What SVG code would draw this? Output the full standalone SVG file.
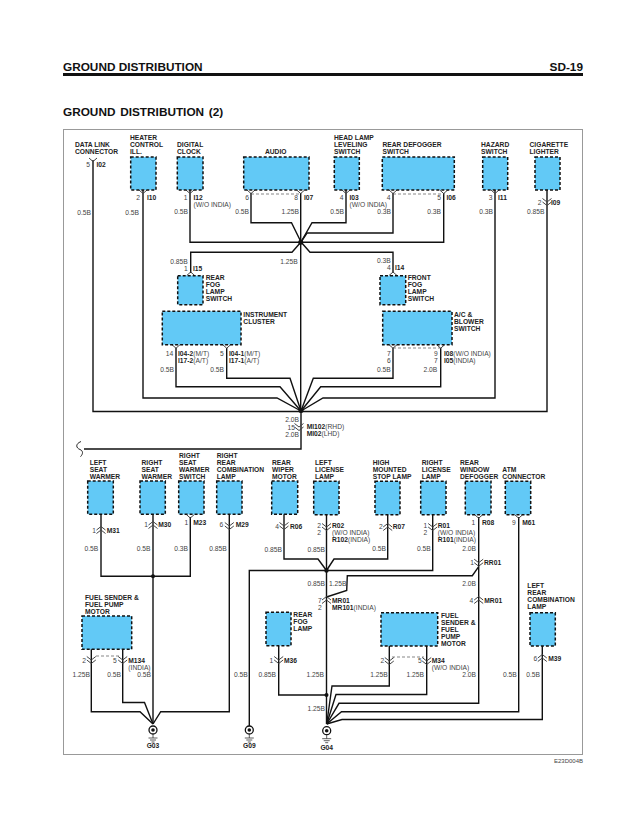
<svg xmlns="http://www.w3.org/2000/svg" width="638" height="826" viewBox="0 0 638 826">
<style>
text{font-family:"Liberation Sans",Arial,sans-serif;font-size:6.7px;fill:#444}
.t{font-weight:bold;font-size:6.7px;fill:#222}
.b{font-weight:bold;fill:#222}
.e{text-anchor:end}
.h{font-weight:bold;font-size:11.8px;fill:#111}
.box{fill:#62c9f6;stroke:#111;stroke-width:1.5;stroke-dasharray:3 2}
.w{fill:none;stroke:#111;stroke-width:1.4;stroke-linejoin:miter}
.d{fill:none;stroke:#555;stroke-width:.7;stroke-dasharray:3 2}
.c{fill:none;stroke:#444;stroke-width:1}
.dot{fill:#111}
</style>
<defs>
<path id="fork" class="c" d="M-4 0L0 3.5L4 0"/>
<path id="forkup" class="c" d="M-4 0L0 -3.5L4 0"/>
<path id="dn" class="c" d="M-4.500 -3.500L0 0L4.500 -3.500M-4.500 0L0 3.500L4.500 0"/>
<path id="up" class="c" d="M-4.500 3.500L0 0L4.500 3.500M-4.500 0L0 -3.500L4.500 0"/>
<g id="gnd">
<circle r="4" fill="#fff" stroke="#111" stroke-width="1.300"/>
<circle r="1.800" fill="#111"/>
<path d="M0 4V8M-4.500 8H4.500M-3 10H3M-1.500 12H1.500" fill="none" stroke="#333" stroke-width=".8"/>
</g>
</defs>
<rect width="638" height="826" fill="#fff"/>
<g id="header">
<text class="h" x="63" y="71">GROUND DISTRIBUTION</text>
<text class="h" x="583" y="71" text-anchor="end">SD-19</text>
<rect x="63" y="73" width="520" height="3" fill="#111"/>
<text class="h" x="63" y="116" style="word-spacing:1.500px">GROUND DISTRIBUTION (2)</text>
<rect x="63.500" y="129.500" width="519" height="625" fill="none" stroke="#999" stroke-width="1"/>
<text x="583" y="763" class="e" style="font-size:6px">E23D004B</text>
</g>
<g id="connectors">
<path class="w" d="M93 160V411.500H301"/>
<path class="w" d="M143 190V398H277L301 411"/>
<path class="w" d="M190 190V242.300H301"/>
<path class="w" d="M251 193V222.700H291.500L301 242"/>
<path class="w" d="M300.700 193V411"/>
<path class="w" d="M346 190V222.700H312L301 242"/>
<path class="w" d="M393 193V233H307L301 242"/>
<path class="w" d="M443.700 193V242.300H301"/>
<path class="w" d="M495 190V398H323L301 411"/>
<path class="w" d="M547 190V411.500H301"/>
<path class="w" d="M190.700 273V252.300H292L301 242"/>
<path class="w" d="M393 273V252.300H310L301 242"/>
<path class="w" d="M176 348V386.700H280L301 411"/>
<path class="w" d="M226.700 348V378.300H290L301 411"/>
<path class="w" d="M393 348V378.300H313.300L301 411"/>
<path class="w" d="M440.700 348V386.700H320.700L301 411"/>
<path class="w" d="M301 411V449H84"/>
<path fill="none" stroke="#111" stroke-width=".9" d="M81 441.500C75 444 76 448 80 449.500C83.500 451 83 454 80.500 456.700"/>
<path class="w" d="M101 514V576.300H190.300V517"/>
<path class="w" d="M153 514V724"/>
<path class="w" d="M229.300 514V711.700H160.700L153 724"/>
<path class="w" d="M91.300 649V711.700H140L153 724"/>
<path class="w" d="M122.700 649V702.500H144.500L153 724"/>
<path class="w" d="M284 514V559H318L326.500 570.500"/>
<path class="w" d="M326.500 514V724"/>
<path class="w" d="M387.700 514V559H334L326.500 570.500"/>
<path class="w" d="M249.300 726V570.500H432.700V514"/>
<path class="w" d="M478.700 517V703.300H339L326.700 724"/>
<path class="w" d="M478.700 566.700L472.300 575.700H347.300L346.700 590.500L326.500 597"/>
<path class="w" d="M518.700 517V711.700H341.500L326.700 724"/>
<path class="w" d="M542.300 646V719.500H342L326.700 724"/>
<path class="w" d="M389.300 646V686H332L326.700 724"/>
<path class="w" d="M426.700 646V694.500H336L326.700 724"/>
<path class="w" d="M278.700 646V695H326.500"/>
<path class="d" d="M251 194H300.700M393 194H443.700M393 348H440.700M96 656H120M392 657H424"/>
<circle class="dot" cx="300.700" cy="242.300" r="2.500"/>
<circle class="dot" cx="301" cy="410.500" r="2.500"/>
<circle class="dot" cx="153" cy="576.300" r="2"/>
<circle class="dot" cx="326.500" cy="570.500" r="2.200"/>
<circle class="dot" cx="326.500" cy="695" r="2"/>
<use href="#fork" x="93" y="158"/><use href="#fork" x="143" y="190"/><use href="#fork" x="190" y="190"/>
<use href="#fork" x="251" y="190"/><use href="#fork" x="300.700" y="190"/><use href="#fork" x="346" y="190"/>
<use href="#fork" x="393" y="190"/><use href="#fork" x="443.700" y="190"/><use href="#fork" x="495" y="190"/>
<use href="#dn" x="547" y="202"/>
<use href="#forkup" x="190.700" y="275.500"/><use href="#forkup" x="393" y="275.500"/>
<use href="#fork" x="176" y="344.700"/><use href="#fork" x="226.700" y="344.700"/><use href="#fork" x="393" y="344.700"/><use href="#fork" x="440.700" y="344.700"/>
<use href="#dn" x="299" y="427"/>
<use href="#up" x="101" y="530"/><use href="#up" x="153" y="525"/><use href="#fork" x="190.300" y="514.500"/>
<use href="#dn" x="229.300" y="526"/><use href="#dn" x="284" y="526"/><use href="#dn" x="326.500" y="527"/><use href="#up" x="387.700" y="527"/><use href="#dn" x="432.700" y="527"/>
<use href="#fork" x="478.700" y="514.700"/><use href="#fork" x="518.700" y="514.700"/>
<use href="#dn" x="478.700" y="562.700"/><use href="#up" x="478.700" y="600"/><use href="#up" x="326.500" y="600"/>
<use href="#dn" x="91.300" y="660"/><use href="#dn" x="122.700" y="660"/><use href="#dn" x="278.700" y="660"/>
<use href="#dn" x="389.300" y="661"/><use href="#dn" x="426.700" y="661"/><use href="#up" x="542.300" y="658"/>
<g id="gauges">
<text class="e" x="91" y="215">0.5B</text><text class="e" x="139" y="215">0.5B</text><text class="e" x="188" y="214">0.5B</text><text class="e" x="249" y="214">0.5B</text><text class="e" x="299" y="214">1.25B</text><text class="e" x="344" y="214">0.5B</text><text class="e" x="391" y="214">0.3B</text><text class="e" x="441" y="214">0.3B</text><text class="e" x="493" y="214">0.3B</text><text class="e" x="544.500" y="214">0.85B</text>
<text class="e" x="187.700" y="264">0.85B</text><text class="e" x="297.700" y="264">1.25B</text><text class="e" x="390.700" y="263">0.3B</text>
<text class="e" x="174" y="372">0.5B</text><text class="e" x="224" y="372">0.5B</text><text class="e" x="390.700" y="372">0.5B</text><text class="e" x="437.300" y="372">2.0B</text>
<text class="e" x="299" y="421.500">2.0B</text><text class="e" x="299" y="437">2.0B</text>
<text class="e" x="98.300" y="550.500">0.5B</text><text class="e" x="150.500" y="550.500">0.5B</text><text class="e" x="188" y="550.500">0.3B</text><text class="e" x="226.700" y="550.500">0.85B</text><text class="e" x="282" y="551.500">0.85B</text><text class="e" x="325" y="551.500">0.85B</text><text class="e" x="386" y="551">0.5B</text><text class="e" x="430.700" y="551">0.5B</text><text class="e" x="476" y="551">2.0B</text>
<text class="e" x="325" y="586.300">0.85B</text><text x="329" y="586.300">1.25B</text><text class="e" x="476" y="586.300">2.0B</text>
<text class="e" x="90" y="676.500">1.25B</text><text class="e" x="121" y="676.500">0.5B</text><text class="e" x="151" y="676.500">0.5B</text><text class="e" x="247.700" y="676.500">0.5B</text><text class="e" x="276" y="676.500">0.85B</text><text class="e" x="324" y="676.500">1.25B</text><text class="e" x="387.700" y="676.500">1.25B</text><text class="e" x="424" y="676.500">1.25B</text><text class="e" x="476" y="676.500">2.0B</text><text class="e" x="516.700" y="676.500">0.5B</text><text class="e" x="540" y="676.500">0.5B</text>
<text class="e" x="325" y="710.500">1.25B</text>
</g>
</g>
<g id="data-link-connector"><text class="t" x="75" y="147">DATA LINK</text><text class="t" x="75" y="154">CONNECTOR</text><text class="e" x="90" y="167">5</text><text class="b" x="96.500" y="167">I02</text></g>
<g id="heater-control"><rect class="box" x="130.700" y="157" width="25.300" height="33"/><text class="t" x="130" y="140">HEATER</text><text class="t" x="130" y="147">CONTROL</text><text class="t" x="130" y="154">ILL.</text><text class="e" x="140" y="200">2</text><text class="b" x="147" y="200">I10</text></g>
<g id="digital-clock"><rect class="box" x="177.300" y="157" width="25.700" height="33"/><text class="t" x="177" y="147">DIGITAL</text><text class="t" x="177" y="154">CLOCK</text><text class="e" x="187.500" y="200">1</text><text class="b" x="193.500" y="200">I12</text><text x="193.500" y="207">(W/O INDIA)</text></g>
<g id="audio"><rect class="box" x="243.700" y="157" width="65.300" height="33"/><text class="t" x="275.700" y="154" text-anchor="middle">AUDIO</text><text class="e" x="249" y="200">6</text><text class="e" x="298" y="200">8</text><text class="b" x="304" y="200">I07</text></g>
<g id="head-lamp-leveling"><rect class="box" x="334.300" y="157" width="25" height="33"/><text class="t" x="334" y="140">HEAD LAMP</text><text class="t" x="334" y="147">LEVELING</text><text class="t" x="334" y="154">SWITCH</text><text class="e" x="343.500" y="200">4</text><text class="b" x="349.500" y="200">I03</text><text x="349.500" y="207">(W/O INDIA)</text></g>
<g id="rear-defogger"><rect class="box" x="382.300" y="157" width="72" height="33"/><text class="t" x="382.500" y="147">REAR DEFOGGER</text><text class="t" x="382.500" y="154">SWITCH</text><text class="e" x="390.500" y="200">4</text><text class="e" x="441" y="200">5</text><text class="b" x="446.500" y="200">I06</text></g>
<g id="hazard"><rect class="box" x="482.700" y="157" width="25" height="33"/><text class="t" x="481" y="147">HAZARD</text><text class="t" x="481" y="154">SWITCH</text><text class="e" x="492.500" y="200">3</text><text class="b" x="498" y="200">I11</text></g>
<g id="cigarette"><rect class="box" x="535" y="157" width="25" height="33"/><text class="t" x="529.500" y="147">CIGARETTE</text><text class="t" x="529.500" y="154">LIGHTER</text><text class="e" x="541.500" y="204.500">2</text><text class="b" x="551" y="204.500">I09</text></g>
<g id="rear-fog-switch"><rect class="box" x="177.700" y="275.700" width="25.300" height="29"/><text class="t" x="205.700" y="280">REAR</text><text class="t" x="205.700" y="287">FOG</text><text class="t" x="205.700" y="294">LAMP</text><text class="t" x="205.700" y="300.500">SWITCH</text><text class="e" x="187.700" y="271">1</text><text class="b" x="193" y="271">I15</text></g>
<g id="front-fog-switch"><rect class="box" x="380" y="275.700" width="25.700" height="29"/><text class="t" x="407.700" y="280">FRONT</text><text class="t" x="407.700" y="287">FOG</text><text class="t" x="407.700" y="294">LAMP</text><text class="t" x="407.700" y="300.500">SWITCH</text><text class="e" x="390.700" y="270">4</text><text class="b" x="395" y="270">I14</text></g>
<g id="instrument-cluster"><rect class="box" x="162.300" y="311.300" width="78.700" height="33.400"/><text class="t" x="243.300" y="316.500">INSTRUMENT</text><text class="t" x="243.300" y="323.500">CLUSTER</text><text class="e" x="173.300" y="356">14</text><text x="178" y="356"><tspan class="b">I04-2</tspan>(M/T)</text><text x="178" y="363"><tspan class="b">I17-2</tspan>(A/T)</text><text class="e" x="223.700" y="356">5</text><text x="229" y="356"><tspan class="b">I04-1</tspan>(M/T)</text><text x="229" y="363"><tspan class="b">I17-1</tspan>(A/T)</text></g>
<g id="ac-blower"><rect class="box" x="382.700" y="311.300" width="69.300" height="33.400"/><text class="t" x="454" y="316.500">A/C &amp;</text><text class="t" x="454" y="323.500">BLOWER</text><text class="t" x="454" y="330.500">SWITCH</text><text class="e" x="390.700" y="356">7</text><text class="e" x="390.700" y="363">6</text><text class="e" x="437.700" y="356">9</text><text class="e" x="437.700" y="363">7</text><text x="444" y="356"><tspan class="b">I08</tspan>(W/O INDIA)</text><text x="444" y="363"><tspan class="b">I05</tspan>(INDIA)</text></g>
<g id="mi102"><text class="e" x="295" y="430">15</text><text x="306.700" y="429"><tspan class="b">MI102</tspan>(RHD)</text><text x="306.700" y="436"><tspan class="b">MI02</tspan>(LHD)</text></g>
<g id="left-seat-warmer"><rect class="box" x="87.700" y="481" width="25.600" height="33.300"/><text class="t" x="89.700" y="464.500">LEFT</text><text class="t" x="89.700" y="471.500">SEAT</text><text class="t" x="89.700" y="478.500">WARMER</text><text class="e" x="96" y="533">1</text><text class="b" x="106.700" y="533">M31</text></g>
<g id="right-seat-warmer"><rect class="box" x="140" y="481" width="25.300" height="33.300"/><text class="t" x="141.500" y="464.500">RIGHT</text><text class="t" x="141.500" y="471.500">SEAT</text><text class="t" x="141.500" y="478.500">WARMER</text><text class="e" x="148" y="527">1</text><text class="b" x="158.300" y="527">M30</text></g>
<g id="right-seat-warmer-switch"><rect class="box" x="178.700" y="481" width="25.300" height="33.300"/><text class="t" x="179" y="457.500">RIGHT</text><text class="t" x="179" y="464.500">SEAT</text><text class="t" x="179" y="471.500">WARMER</text><text class="t" x="179" y="478.500">SWITCH</text><text class="e" x="188.300" y="525">1</text><text class="b" x="193.300" y="525">M23</text></g>
<g id="right-rear-combination"><rect class="box" x="216.700" y="481" width="25.300" height="33.300"/><text class="t" x="216.700" y="457.500">RIGHT</text><text class="t" x="216.700" y="464.500">REAR</text><text class="t" x="216.700" y="471.500">COMBINATION</text><text class="t" x="216.700" y="478.500">LAMP</text><text class="e" x="223.300" y="527">6</text><text class="b" x="235.700" y="527">M29</text></g>
<g id="rear-wiper"><rect class="box" x="271.700" y="481" width="26" height="33.300"/><text class="t" x="272" y="464.500">REAR</text><text class="t" x="272" y="471.500">WIPER</text><text class="t" x="272" y="478.500">MOTOR</text><text class="e" x="279" y="529">4</text><text class="b" x="290" y="529">R06</text></g>
<g id="left-license"><rect class="box" x="313.700" y="481.300" width="25.300" height="33.400"/><text class="t" x="315" y="464.500">LEFT</text><text class="t" x="315" y="471.500">LICENSE</text><text class="t" x="315" y="478.500">LAMP</text><text class="e" x="321" y="528">2</text><text class="e" x="321" y="535">2</text><text class="b" x="332" y="528">R02</text><text x="332" y="535">(W/O INDIA)</text><text x="332" y="542"><tspan class="b">R102</tspan>(INDIA)</text></g>
<g id="high-mounted-stop"><rect class="box" x="375" y="481.300" width="25" height="33.400"/><text class="t" x="372.700" y="464.500">HIGH</text><text class="t" x="372.700" y="471.500">MOUNTED</text><text class="t" x="372.700" y="478.500">STOP LAMP</text><text class="e" x="382.700" y="529">2</text><text class="b" x="392.700" y="529">R07</text></g>
<g id="right-license"><rect class="box" x="420.700" y="481.300" width="25.300" height="33.400"/><text class="t" x="421.700" y="464.500">RIGHT</text><text class="t" x="421.700" y="471.500">LICENSE</text><text class="t" x="421.700" y="478.500">LAMP</text><text class="e" x="427.300" y="528">1</text><text class="e" x="427.300" y="535">2</text><text class="b" x="437.700" y="528">R01</text><text x="437.700" y="535">(W/O INDIA)</text><text x="437.700" y="542"><tspan class="b">R101</tspan>(INDIA)</text></g>
<g id="rear-window-defogger"><rect class="box" x="465.300" y="481.300" width="25.700" height="33.400"/><text class="t" x="460" y="464.500">REAR</text><text class="t" x="460" y="471.500">WINDOW</text><text class="t" x="460" y="478.500">DEFOGGER</text><text class="e" x="475.300" y="525">1</text><text class="b" x="482" y="525">R08</text></g>
<g id="atm-connector"><rect class="box" x="505.300" y="481.300" width="25.400" height="33.400"/><text class="t" x="502.300" y="471.500">ATM</text><text class="t" x="502.300" y="478.500">CONNECTOR</text><text class="e" x="515.700" y="525">9</text><text class="b" x="522.300" y="525">M61</text></g>
<g id="rr01"><text class="e" x="474" y="565">1</text><text class="b" x="484" y="565">RR01</text></g>
<g id="mr01-right"><text class="e" x="473.300" y="603">4</text><text class="b" x="484.300" y="603">MR01</text></g>
<g id="mr01-left"><text class="e" x="321.700" y="603">7</text><text class="e" x="321.700" y="610">2</text><text class="b" x="332" y="603">MR01</text><text x="332" y="610"><tspan class="b">MR101</tspan>(INDIA)</text></g>
<g id="fuel-sender-left"><rect class="box" x="82" y="616" width="49.700" height="33.300"/><text class="t" x="85" y="599.700">FUEL SENDER &amp;</text><text class="t" x="85" y="606.700">FUEL PUMP</text><text class="t" x="85" y="613.700">MOTOR</text><text class="e" x="86" y="662.500">2</text><text class="e" x="116.700" y="662.500">5</text><text class="b" x="128.300" y="662.500">M134</text><text x="128.300" y="669.500">(INDIA)</text></g>
<g id="rear-fog-lamp"><rect class="box" x="266" y="612.300" width="25" height="33.400"/><text class="t" x="293.300" y="616.700">REAR</text><text class="t" x="293.300" y="623.700">FOG</text><text class="t" x="293.300" y="630.700">LAMP</text><text class="e" x="273.300" y="662.500">1</text><text class="b" x="284" y="662.500">M36</text></g>
<g id="fuel-sender-right"><rect class="box" x="381" y="612.700" width="56.700" height="33.300"/><text class="t" x="441" y="617.700">FUEL</text><text class="t" x="441" y="624.500">SENDER &amp;</text><text class="t" x="441" y="631.500">FUEL</text><text class="t" x="441" y="638.500">PUMP</text><text class="t" x="441" y="645.500">MOTOR</text><text class="e" x="384.300" y="663">2</text><text class="e" x="421.700" y="663">5</text><text class="b" x="431.700" y="663">M34</text><text x="431.700" y="670">(W/O INDIA)</text></g>
<g id="left-rear-combination"><rect class="box" x="530" y="612.700" width="25.300" height="33.300"/><text class="t" x="527.300" y="588">LEFT</text><text class="t" x="527.300" y="595">REAR</text><text class="t" x="527.300" y="602">COMBINATION</text><text class="t" x="527.300" y="609">LAMP</text><text class="e" x="537.300" y="660.500">6</text><text class="b" x="548.300" y="660.500">M39</text></g>
<g id="g03"><use href="#gnd" x="153" y="730"/><text class="t" x="153" y="748" text-anchor="middle">G03</text></g>
<g id="g09"><use href="#gnd" x="249.300" y="730"/><text class="t" x="249.300" y="748" text-anchor="middle">G09</text></g>
<g id="g04"><use href="#gnd" x="326.700" y="730.700"/><text class="t" x="326.700" y="750" text-anchor="middle">G04</text></g>
</svg>
